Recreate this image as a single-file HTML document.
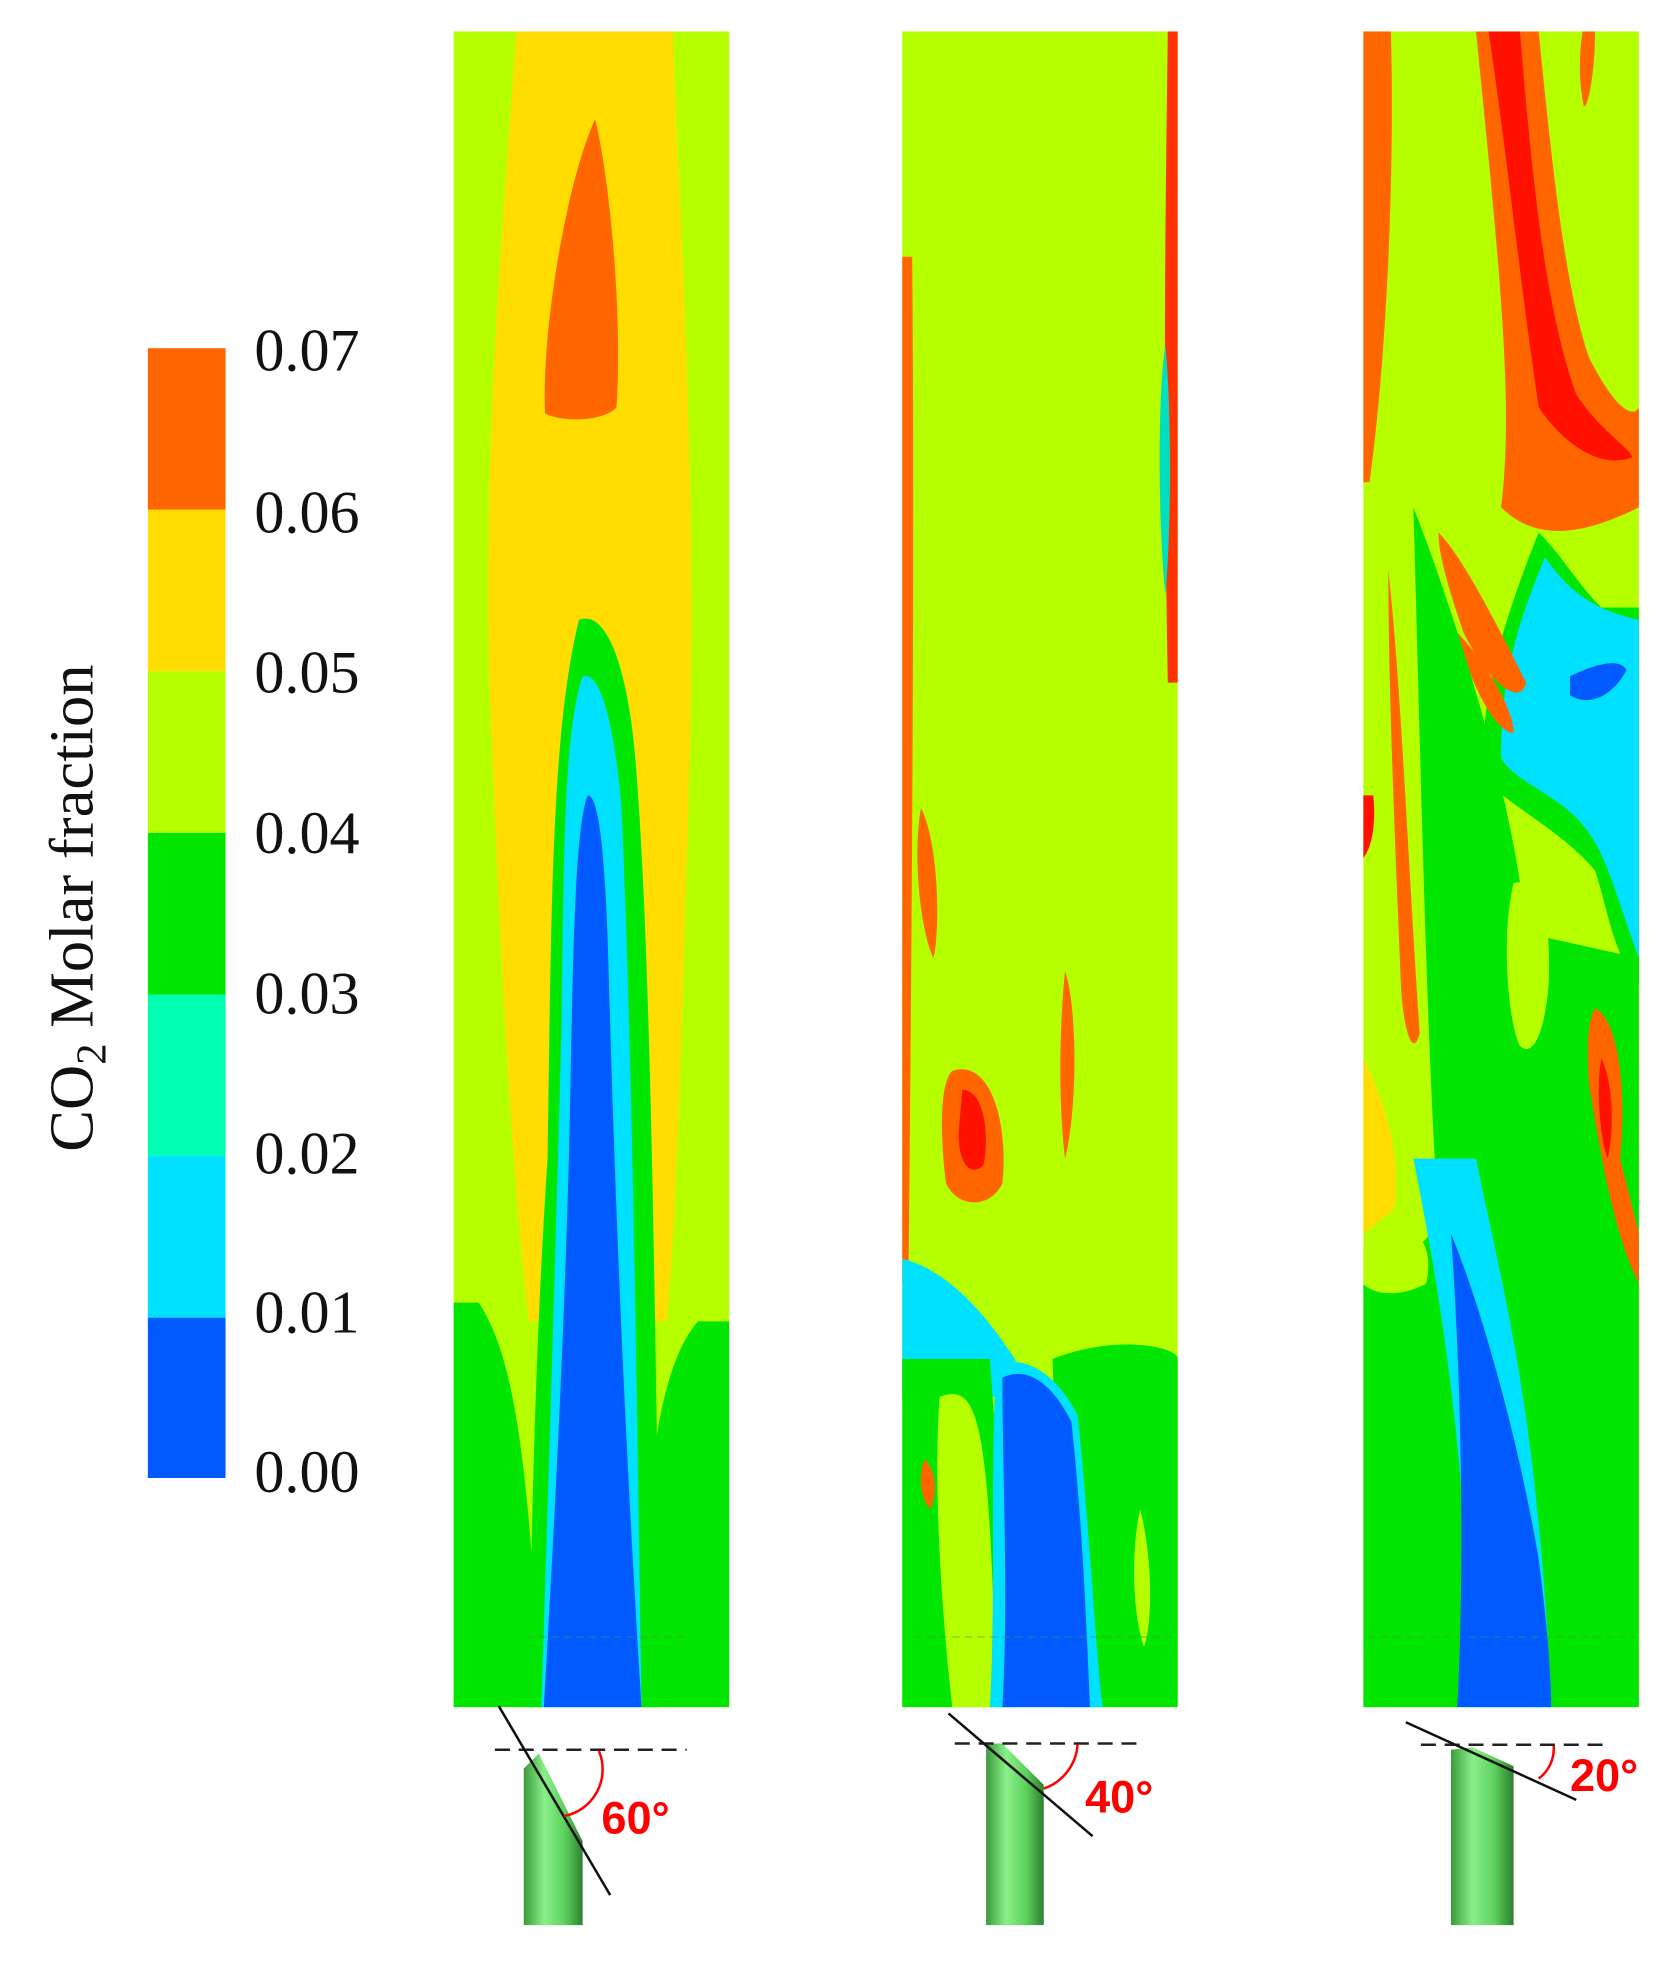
<!DOCTYPE html>
<html><head><meta charset="utf-8"><style>html,body{margin:0;padding:0;background:#fff}svg{display:block}</style></head><body>
<svg width="1679" height="1979" viewBox="0 0 1340 1580" preserveAspectRatio="none" xmlns="http://www.w3.org/2000/svg">
<rect width="1340" height="1580" fill="#fff"/>
<g>
<rect x="118" y="278" width="62" height="129" fill="#FF6600"/>
<rect x="118" y="407" width="62" height="129" fill="#FFDD00"/>
<rect x="118" y="536" width="62" height="129" fill="#B5FF00"/>
<rect x="118" y="665" width="62" height="129" fill="#00E600"/>
<rect x="118" y="794" width="62" height="129" fill="#00FFB0"/>
<rect x="118" y="923" width="62" height="129" fill="#00E0FF"/>
<rect x="118" y="1052" width="62" height="128" fill="#005AFF"/>
<g font-family="Liberation Serif, serif" font-size="48" fill="#111">
<text x="203" y="296">0.07</text><text x="203" y="425">0.06</text><text x="203" y="553">0.05</text><text x="203" y="681">0.04</text><text x="203" y="809">0.03</text><text x="203" y="937">0.02</text><text x="203" y="1064">0.01</text><text x="203" y="1191">0.00</text>
</g>
<text transform="translate(74,725) rotate(-90)" text-anchor="middle" font-family="Liberation Serif, serif" font-size="50" fill="#111">CO<tspan font-size="34" dy="10">2</tspan><tspan dy="-10"> Molar fraction</tspan></text>
</g>
<!-- panel 1 -->
<svg x="362" y="25" width="220" height="1338" viewBox="0 0 220 1338" preserveAspectRatio="none">
<rect width="220" height="1338" fill="#B5FF00"/>
<path d="M50 0 L175 0 C180 150 195 350 188 600 C182 800 178 950 170 1030 L60 1030 C45 900 35 700 28 500 C25 300 40 150 50 0Z" fill="#FFDD00"/>
<path d="M0 1015 L20 1015 C50 1060 60 1150 70 1338 L0 1338Z" fill="#00E600"/>
<path d="M220 1030 L195 1030 C160 1070 150 1180 150 1338 L220 1338Z" fill="#00E600"/>
<path d="M113 70 C125 120 135 230 130 300 C120 312 85 312 73 305 C70 240 90 120 113 70Z" fill="#FF6600"/>
<path d="M100 470 C125 460 140 520 145 580 C155 700 160 900 165 1338 L60 1338 C62 1200 65 1050 75 900 C78 700 78 560 100 470Z" fill="#00E600"/>
<path d="M103 515 C120 510 130 570 134 620 C142 800 145 1000 150 1338 L70 1338 C76 1150 82 950 86 800 C88 650 88 560 103 515Z" fill="#00E0FF"/>
<path d="M107 610 C118 610 122 680 124 760 C128 900 135 1100 150 1338 L72 1338 C80 1200 88 1050 92 900 C95 780 95 640 107 610Z" fill="#005AFF"/>
</svg>
<!-- panel 2 -->
<svg x="720" y="25" width="220" height="1338" viewBox="0 0 220 1338" preserveAspectRatio="none">
<rect width="220" height="1338" fill="#B5FF00"/>
<path d="M0 180 L8 180 C10 400 8 700 5 1000 L0 1000Z" fill="#FF6600"/>
<path d="M212 0 L220 0 L220 520 L212 520 C208 300 210 150 212 0Z" fill="#FF3300"/>
<path d="M210 250 C215 300 215 400 210 450 C205 400 203 300 210 250Z" fill="#00E0C0"/>
<path d="M15 620 C30 650 30 720 25 740 C15 720 8 660 15 620Z" fill="#FF6600"/>
<path d="M40 830 C70 820 85 870 80 920 C70 940 45 940 35 920 C30 880 30 840 40 830Z" fill="#FF6600"/>
<path d="M48 845 C65 845 70 880 65 905 C55 915 45 905 45 880Z" fill="#FF1100"/>
<path d="M130 750 C140 780 140 860 130 900 C125 860 125 800 130 750Z" fill="#FF6600"/>
<path d="M0 980 C40 990 70 1030 90 1060 L100 1090 L0 1090Z" fill="#00E0FF"/>
<path d="M0 1060 L70 1060 L90 1338 L0 1338Z" fill="#00E600"/>
<path d="M30 1090 C60 1080 70 1100 75 1338 L40 1338 C30 1250 25 1150 30 1090Z" fill="#B5FF00"/>
<path d="M120 1060 C170 1040 220 1050 220 1060 L220 1338 L130 1338Z" fill="#00E600"/>
<path d="M75 1065 C100 1055 125 1075 140 1105 C150 1200 155 1300 160 1338 L70 1338 C75 1250 70 1150 75 1065Z" fill="#00E0FF"/>
<path d="M80 1075 C100 1065 120 1080 135 1110 C145 1200 148 1300 150 1338 L80 1338 C85 1250 80 1150 80 1075Z" fill="#005AFF"/>
<path d="M190 1180 C200 1220 200 1270 193 1290 C183 1260 183 1210 190 1180Z" fill="#B5FF00"/>
<path d="M18 1140 C28 1150 28 1170 22 1180 C14 1170 13 1150 18 1140Z" fill="#FF6600"/>
</svg>
<!-- panel 3 -->
<svg x="1088" y="25" width="220" height="1338" viewBox="0 0 220 1338" preserveAspectRatio="none">
<rect width="220" height="1338" fill="#B5FF00"/>
<path d="M0 0 L22 0 C25 100 20 250 5 360 L0 360Z" fill="#FF6600"/>
<path d="M90 0 L140 0 C150 100 160 200 180 260 C200 300 215 310 220 300 L220 380 C180 400 140 410 110 380 C120 300 110 200 90 0Z" fill="#FF6600"/>
<path d="M100 0 L125 0 C135 120 145 220 170 290 C190 320 210 330 215 340 C190 350 160 330 140 300 C125 200 115 100 100 0Z" fill="#FF1100"/>
<path d="M175 0 L185 0 C185 30 180 60 176 60 C172 40 172 20 175 0Z" fill="#FF6600"/>
<path d="M140 400 C160 420 170 440 190 460 C220 460 220 460 220 460 L220 760 C200 740 195 700 185 670 C160 640 120 620 100 600 C90 560 100 500 140 400Z" fill="#00E600"/>
<path d="M145 420 C160 440 175 460 220 470 L220 740 C205 700 195 660 180 640 C160 610 120 600 110 580 C110 520 120 480 145 420Z" fill="#00E0FF"/>
<path d="M165 515 C185 505 205 500 210 510 C200 530 180 540 165 530Z" fill="#005AFF"/>
<path d="M60 400 C80 420 110 480 130 520 C125 540 100 520 80 480 C70 450 60 420 60 400Z" fill="#FF6600"/>
<path d="M75 480 C95 500 120 540 120 560 C105 560 85 520 75 480Z" fill="#FF6600"/>
<path d="M40 380 C60 430 120 600 130 720 L220 740 L220 1338 L0 1338 L0 1000 C30 980 50 970 60 950 C50 800 45 550 40 380Z" fill="#00E600"/>
<path d="M120 680 C140 675 150 700 148 760 C145 800 135 820 125 810 C115 790 110 720 120 680Z" fill="#B5FF00"/>
<path d="M20 430 C30 520 35 650 45 800 C40 820 32 800 30 760 C25 640 20 520 20 430Z" fill="#FF6600"/>
<path d="M0 610 L8 610 C10 630 8 650 0 660Z" fill="#FF1100"/>
<path d="M185 780 C205 790 210 850 205 900 L220 960 L220 1000 C200 960 190 900 180 840 C178 800 180 790 185 780Z" fill="#FF6600"/>
<path d="M190 820 C200 840 200 880 195 900 C188 880 186 840 190 820Z" fill="#FF1100"/>
<path d="M40 900 L90 900 C110 1000 140 1100 150 1338 L90 1338 C80 1150 70 1050 40 900Z" fill="#00E0FF"/>
<path d="M70 960 C95 1020 125 1130 140 1220 C148 1280 150 1320 150 1338 L75 1338 C80 1250 80 1100 70 960Z" fill="#005AFF"/>
<path d="M0 820 C20 860 30 900 25 940 L0 960Z" fill="#FFDD00"/>
<path d="M0 970 C30 940 60 960 50 1000 C30 1010 10 1010 0 1000Z" fill="#B5FF00"/>
</svg>
<line x1="420" y1="1307" x2="548" y2="1307" stroke="#5a8a4a" stroke-width="1" stroke-dasharray="6 4" opacity="0.5"/>
<line x1="730" y1="1307" x2="935" y2="1307" stroke="#5a8a4a" stroke-width="1" stroke-dasharray="6 4" opacity="0.5"/>
<line x1="1092" y1="1307" x2="1305" y2="1307" stroke="#5a8a4a" stroke-width="1" stroke-dasharray="6 4" opacity="0.5"/>
<defs><linearGradient id="cyl" x1="0" x2="1"><stop offset="0" stop-color="#3c9a3c"/><stop offset="0.35" stop-color="#8af08a"/><stop offset="0.7" stop-color="#5cd05c"/><stop offset="1" stop-color="#2f7f2f"/></linearGradient></defs>
<path d="M418 1412 L430 1400 L465 1470 L465 1537 L418 1537Z" fill="url(#cyl)"/>
<line x1="395" y1="1397" x2="548" y2="1397" stroke="#222" stroke-width="2" stroke-dasharray="12 7"/>
<line x1="398" y1="1362" x2="487" y2="1513" stroke="#111" stroke-width="2"/>
<path d="M478 1398 A38 38 0 0 1 450 1450" fill="none" stroke="#f00" stroke-width="2"/>
<text x="480" y="1464" font-family="Liberation Sans, sans-serif" font-size="36" font-weight="bold" fill="#f00">60°</text>
<path d="M787 1392 L800 1392 L833 1425 L833 1537 L787 1537Z" fill="url(#cyl)"/>
<line x1="762" y1="1392" x2="913" y2="1392" stroke="#222" stroke-width="2" stroke-dasharray="12 7"/>
<line x1="757" y1="1368" x2="872" y2="1466" stroke="#111" stroke-width="2"/>
<path d="M860 1393 A40 40 0 0 1 833 1428" fill="none" stroke="#f00" stroke-width="2"/>
<text x="866" y="1447" font-family="Liberation Sans, sans-serif" font-size="36" font-weight="bold" fill="#f00">40°</text>
<path d="M1158 1397 L1175 1395 L1208 1410 L1208 1537 L1158 1537Z" fill="url(#cyl)"/>
<line x1="1134" y1="1393" x2="1285" y2="1393" stroke="#222" stroke-width="2" stroke-dasharray="12 7"/>
<line x1="1122" y1="1375" x2="1258" y2="1437" stroke="#111" stroke-width="2"/>
<path d="M1240 1394 A30 30 0 0 1 1228 1420" fill="none" stroke="#f00" stroke-width="2"/>
<text x="1253" y="1430" font-family="Liberation Sans, sans-serif" font-size="36" font-weight="bold" fill="#f00">20°</text>
</svg>
</body></html>
